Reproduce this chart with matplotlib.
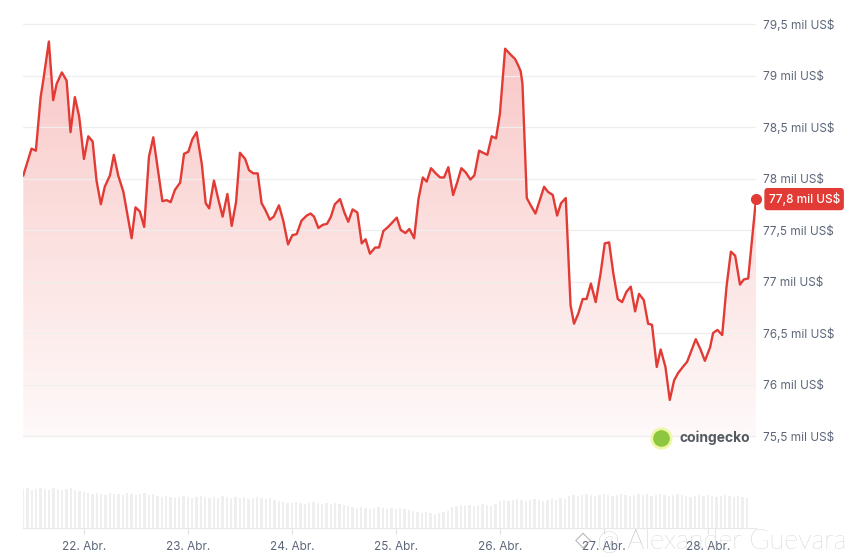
import numpy as np
import matplotlib.pyplot as plt

plt.rcParams['font.family'] = ['Inter', 'DejaVu Sans']

# time in hours from 22 Apr 00:00, price in thousands of US$
hours = [-14.0, -12.1, -11.1, -10.0, -9.4, -8.1, -7.1, -6.3, -5.1, -4.0,
         -3.1, -2.1, -1.1, 0.0, 1.0, 2.0, 2.9, 3.9, 4.8, 6.0,
         6.9, 7.9, 9.1, 11.0, 11.9, 12.9, 13.9, 15.0, 16.0, 18.1,
         19.1, 20.0, 21.0, 22.2, 23.1, 24.1, 25.0, 26.0, 27.2, 28.1,
         28.9, 30.0, 31.0, 32.0, 33.1, 34.1, 35.1, 36.0, 37.2, 38.1,
         39.1, 40.1, 41.0, 41.8, 42.9, 43.8, 45.0, 46.0, 47.1, 48.1,
         49.1, 50.2, 51.4, 52.3, 53.1, 54.1, 55.1, 56.1, 57.0, 57.9,
         59.1, 60.1, 61.0, 62.0, 63.1, 64.1, 65.0, 66.0, 67.2, 68.1,
         69.1, 70.2, 71.1, 72.2, 73.1, 74.2, 75.1, 76.2, 77.2, 78.2,
         79.1, 80.1, 81.2, 82.2, 83.1, 84.1, 85.2, 86.2, 87.1, 88.1,
         89.2, 90.1, 91.2, 92.1, 93.1, 94.1, 95.1, 96.0, 97.2, 98.3,
         99.5, 100.2, 100.8, 101.2, 102.2, 103.1, 104.2, 105.2, 106.2, 107.1,
         108.2, 109.2, 110.1, 111.2, 112.3, 113.1, 114.1, 115.1, 116.0, 117.0,
         118.1, 119.2, 120.2, 121.2, 122.2, 123.2, 124.2, 125.2, 126.2, 127.2,
         128.1, 129.2, 130.2, 131.1, 132.2, 133.1, 134.2, 135.2, 136.2, 137.1,
         138.2, 139.2, 140.2, 141.2, 142.3, 143.3, 144.5, 145.2, 146.2, 147.3,
         148.3, 149.3, 150.3, 151.4, 152.3, 153.3, 155.1]
price = [78.03, 78.29, 78.27, 78.79, 78.95, 79.33, 78.76, 78.92, 79.03, 78.95,
         78.45, 78.79, 78.60, 78.19, 78.41, 78.36, 77.98, 77.75, 77.92, 78.03,
         78.23, 78.03, 77.87, 77.42, 77.72, 77.68, 77.53, 78.21, 78.40, 77.78,
         77.79, 77.77, 77.89, 77.96, 78.24, 78.26, 78.38, 78.45, 78.14, 77.76,
         77.71, 77.98, 77.80, 77.63, 77.85, 77.54, 77.77, 78.25, 78.19, 78.08,
         78.05, 78.05, 77.76, 77.70, 77.60, 77.63, 77.74, 77.59, 77.36, 77.45,
         77.46, 77.59, 77.64, 77.66, 77.63, 77.52, 77.55, 77.56, 77.63, 77.75,
         77.80, 77.67, 77.58, 77.70, 77.67, 77.37, 77.41, 77.27, 77.33, 77.33,
         77.49, 77.53, 77.57, 77.62, 77.50, 77.47, 77.51, 77.42, 77.80, 78.01,
         77.97, 78.10, 78.05, 78.01, 78.01, 78.11, 77.84, 77.97, 78.10, 78.06,
         77.99, 78.03, 78.27, 78.25, 78.23, 78.41, 78.39, 78.63, 79.26, 79.21,
         79.16, 79.10, 79.04, 78.92, 77.81, 77.74, 77.66, 77.79, 77.92, 77.87,
         77.84, 77.64, 77.76, 77.81, 76.77, 76.59, 76.69, 76.83, 76.83, 76.98,
         76.80, 77.07, 77.37, 77.38, 77.07, 76.83, 76.80, 76.90, 76.95, 76.71,
         76.88, 76.82, 76.59, 76.58, 76.17, 76.34, 76.17, 75.85, 76.04, 76.11,
         76.17, 76.22, 76.33, 76.44, 76.34, 76.23, 76.36, 76.50, 76.53, 76.48,
         76.95, 77.29, 77.25, 76.97, 77.02, 77.03, 77.80]

vol_hours = list(range(-14, 154))
volume = [39, 40, 38, 39, 40, 39, 38, 40, 39, 38, 39, 40, 38, 37,
          36, 35, 34, 35, 34, 33, 35, 34, 34, 33, 35, 34, 33, 34, 35, 33, 34, 32, 31, 32, 31, 30, 31, 32,
          31, 30, 31, 32, 31, 30, 31, 30, 32, 31, 30, 31, 30, 31, 29, 30, 31, 30, 29, 30, 28, 27, 26, 25,
          25, 26, 25, 24, 25, 26, 25, 24, 25, 24, 25, 24, 23, 22, 21, 20, 21, 20, 19, 20, 21, 20, 19, 20,
          19, 20, 19, 18, 17, 16, 15, 16, 15, 14, 15, 16, 17, 21, 22, 23, 22, 23, 22, 23, 24, 23, 22, 24,
          27, 28, 27, 28, 29, 28, 27, 28, 29, 28, 27, 28, 29, 28, 30, 29, 32, 33, 32, 33, 34, 33, 32, 33,
          34, 33, 32, 33, 34, 33, 32, 33, 34, 33, 34, 32, 33, 34, 33, 32, 33, 34, 33, 32, 31, 32, 33, 32,
          33, 32, 31, 32, 33, 32, 31, 32, 31, 30]

day_ticks = [0, 24, 48, 72, 96, 120, 144]
day_labels = ['22. Abr.', '23. Abr.', '24. Abr.', '25. Abr.', '26. Abr.', '27. Abr.', '28. Abr.']
price_ticks = [75.5, 76, 76.5, 77, 77.5, 78, 78.5, 79, 79.5]

RED = '#e23b35'
GRAY = '#5c6679'


def mil(v):
    return f'{v:g}'.replace('.', ',') + ' mil US$'


W, H = 849, 557
fig = plt.figure(figsize=(W / 100, H / 100), dpi=100)

x0, x1 = hours[0], hours[-1]
left = 23.3 / W
width = (756 - 23.3) / W

# price panel: 103 px per 1000 US$, 79.5 at y=24 px
ylo, yhi = 75.4, 79.6
top_px = 24 - (yhi - 79.5) * 103
bot_px = 436 + (75.5 - ylo) * 103
ax = fig.add_axes([left, 1 - bot_px / H, width, (bot_px - top_px) / H])
ax.set_xlim(x0, x1)
ax.set_ylim(ylo, yhi)

fill = ax.fill_between(hours, price, 75.5, facecolor='none', edgecolor='none')
grad = np.linspace(0.03, 0.29, 256).reshape(-1, 1)
img = np.zeros((256, 1, 4))
img[..., 0], img[..., 1], img[..., 2] = 0.91, 0.22, 0.20
img[..., 3] = grad
im = ax.imshow(img, extent=[x0, x1, 75.5, 79.5], origin='lower', aspect='auto', zorder=1)
im.set_clip_path(fill.get_paths()[0], transform=ax.transData)

ax.plot(hours, price, color=RED, lw=1.7, zorder=3, solid_joinstyle='round')
ax.plot(hours[-1], price[-1], 'o', color=RED, ms=7, zorder=4, clip_on=False)

ax.set_yticks(price_ticks)
ax.set_yticklabels([mil(v) for v in price_ticks])
ax.yaxis.tick_right()
ax.tick_params(axis='y', length=0, pad=5, labelcolor=GRAY, labelsize=8.5)
ax.set_xticks([])
ax.grid(axis='y', color='#eeeeee', lw=0.9, zorder=0)
for s in ax.spines.values():
    s.set_visible(False)

ax.annotate(mil(round(price[-1], 1)), xy=(hours[-1], price[-1]), xytext=(9, 0),
            textcoords='offset points', ha='left', va='center', color='white',
            fontsize=8.5, fontweight='medium', annotation_clip=False,
            bbox=dict(boxstyle='round,pad=0.35,rounding_size=0.3', fc=RED, ec='none'))

# volume panel
vax = fig.add_axes([left, 1 - 528 / H, width, 40 / H])
vax.bar(vol_hours, volume, width=0.55, color='#efefef', zorder=1)
vax.set_xlim(x0, x1)
vax.set_ylim(0, 40)
vax.set_yticks([])
vax.set_xticks(day_ticks)
vax.set_xticklabels(day_labels)
vax.tick_params(axis='x', length=4, color='#e2e2e2', pad=5, labelcolor=GRAY, labelsize=8.5)
for s in ['top', 'left', 'right']:
    vax.spines[s].set_visible(False)
vax.spines['bottom'].set_color('#e8e8e8')

# coingecko mark
fig.add_artist(plt.Line2D([661 / W], [1 - 438 / H], marker='o', ms=14, color='#8dc63f',
                          mec='#eef7a8', mew=2, transform=fig.transFigure))
fig.text(680 / W, 1 - 438 / H, 'coingecko', ha='left', va='center',
         fontsize=10, fontweight='bold', color='#555a60')

# watermark
fig.text(583 / W, 1 - 540 / H, '\u25C7', ha='center', va='center', fontsize=15,
         color='#9a9a9a', alpha=0.7, family=['DejaVu Sans'])
fig.text(597 / W, 1 - 541 / H, '@ Alexander Guevara', ha='left', va='center',
         fontsize=19.5, color='#9a9a9a', alpha=0.7, family=['Lato', 'DejaVu Sans'],
         fontweight='light')

fig.savefig('out.png', dpi=100)
